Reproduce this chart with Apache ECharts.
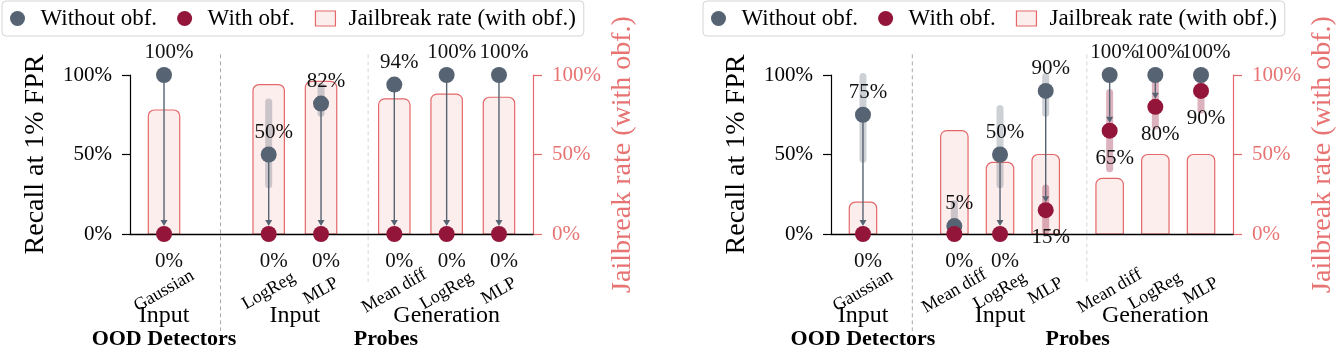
<!DOCTYPE html>
<html>
<head>
<meta charset="utf-8">
<script src="https://cdn.jsdelivr.net/npm/echarts@6/dist/echarts.min.js"></script>
<style>
  html, body { margin: 0; padding: 0; background: #fff; }
  #chart { width: 1338px; height: 348px; }
</style>
</head>
<body>
<div id="chart"></div>
<script>
// ---- data: left panel ----
var leftCats = ['Gaussian', 'LogReg', 'MLP', 'Mean diff', 'LogReg', 'MLP'];
var leftWithout = [100, 50, 82, 94, 100, 100];
var leftWith = [0, 0, 0, 0, 0, 0];
var leftJailbreak = [78, 94, 96, 85, 88, 86];
var leftWithoutLo = [100, 31, 76, 94, 100, 100];
var leftWithoutHi = [100, 83, 93, 94, 100, 100];
var leftWithLo = [0, 0, 0, 0, 0, 0];
var leftWithHi = [0, 0, 0, 0, 0, 0];
var leftGroupOf = [0, 1, 1, 2, 2, 2];
var leftGroups = ['Input', 'Input', 'Generation'];
var leftSectionOf = [0, 1, 1];

// ---- data: right panel ----
var rightCats = ['Gaussian', 'Mean diff', 'LogReg', 'MLP', 'Mean diff', 'LogReg', 'MLP'];
var rightWithout = [75, 5, 50, 90, 100, 100, 100];
var rightWith = [0, 0, 0, 15, 65, 80, 90];
var rightJailbreak = [20, 65, 45, 50, 35, 50, 50];
var rightWithoutLo = [47, 0, 31, 76, 100, 100, 100];
var rightWithoutHi = [99, 19, 79, 99, 100, 100, 100];
var rightWithLo = [0, 0, 0, 2, 41, 68, 78];
var rightWithHi = [0, 0, 0, 29, 89, 96, 100];
var rightGroupOf = [0, 1, 1, 1, 2, 2, 2];
var rightGroups = ['Input', 'Input', 'Generation'];
var rightSectionOf = [0, 1, 1];

var sections = ['OOD Detectors', 'Probes'];
var yTicks = [0, 50, 100];

// ---- layout ----
var leftSlots = [0, 2, 3, 4.4, 5.4, 6.4];
var rightSlots = [0, 2, 3, 4, 5.4, 6.4, 7.4];

var FONT = "'Liberation Serif', 'Times New Roman', serif";
var SLATE = '#566372', CRIMSON = '#93163a', RED = '#e4686a', RED_TXT = '#e77373';

function avg(a) { var s = 0; a.forEach(function (v) { s += v; }); return s / a.length; }

function renderBar(params, api) {
  var top = api.coord([api.value(0), api.value(1)]);
  var base = api.coord([api.value(0), 0]);
  var w = api.size([0.6, 0])[0];
  return {
    type: 'rect',
    shape: { x: top[0] - w / 2, y: top[1], width: w, height: base[1] - top[1], r: [6, 6, 0, 0] },
    style: { fill: '#fdeeee', stroke: RED, lineWidth: 1.2 }
  };
}

// thick translucent range bar behind a dot
function renderErr(params, api) {
  var hi = api.coord([api.value(0), api.value(2)]);
  var lo = api.coord([api.value(0), api.value(1)]);
  var color = api.value(3) === 0 ? 'rgba(88,100,116,0.3)' : 'rgba(147,22,58,0.33)';
  return {
    type: 'rect',
    shape: { x: hi[0] - 3.5, y: hi[1] - 3.5, width: 7, height: lo[1] - hi[1] + 7, r: 3.5 },
    style: { fill: color }
  };
}

function renderArrow(params, api) {
  var a = api.coord([api.value(0), api.value(1)]);
  var b = api.coord([api.value(0), api.value(2)]);
  var dir = b[1] > a[1] ? 1 : -1;
  var tip = b[1] - dir * 8;
  if ((tip - a[1]) * dir < 12) return { type: 'group', children: [] };
  var baseY = tip - dir * 6;
  return {
    type: 'group',
    children: [
      { type: 'line', shape: { x1: a[0], y1: a[1], x2: a[0], y2: baseY }, style: { stroke: SLATE, lineWidth: 1.4 } },
      { type: 'polygon', shape: { points: [[a[0] - 3.5, baseY], [a[0] + 3.5, baseY], [a[0], tip]] }, style: { fill: SLATE } }
    ]
  };
}

function buildPanel(p, slots, cats, without, withObf, jb, oLo, oHi, wLo, wHi, groupOf, groups, sectionOf, dividers) {
  var yL = 2 * p, yR = 2 * p + 1;

  // text items: category names, group names, section names
  var texts = [];
  cats.forEach(function (c, i) {
    texts.push({ x: slots[i], dy: 57, text: c, rot: Math.PI / 6, size: 18, weight: 'normal' });
  });
  var groupSlots = groups.map(function () { return []; });
  slots.forEach(function (x, i) { groupSlots[groupOf[i]].push(x); });
  groups.forEach(function (g, gi) {
    texts.push({ x: avg(groupSlots[gi]), dy: 82, text: g, rot: 0, size: 24, weight: 'normal' });
  });
  var sectionSlots = sections.map(function () { return []; });
  slots.forEach(function (x, i) { sectionSlots[sectionOf[groupOf[i]]].push(x); });
  sections.forEach(function (s, si) {
    texts.push({ x: avg(sectionSlots[si]), dy: 105, text: s, rot: 0, size: 22, weight: 'bold' });
  });

  var errData = [];
  slots.forEach(function (x, i) {
    if (oHi[i] - oLo[i] > 0.5) errData.push([x, oLo[i], oHi[i], 0]);
    if (wHi[i] - wLo[i] > 0.5) errData.push([x, wLo[i], wHi[i], 1]);
  });

  return [
    {
      type: 'custom', name: 'Jailbreak rate (with obf.)', xAxisIndex: p, yAxisIndex: yR, z: 1,
      itemStyle: { color: '#fdeeee', borderColor: RED },
      renderItem: renderBar,
      data: slots.map(function (x, i) { return [x, jb[i]]; })
    },
    {
      type: 'custom', xAxisIndex: p, yAxisIndex: yL, z: 2, silent: true,
      renderItem: function (params, api) {
        var d = dividers[params.dataIndex];
        var t = api.coord([d.x, 113]);
        var b = api.coord([d.x, d.yEnd]);
        return { type: 'line', shape: { x1: t[0], y1: t[1], x2: b[0], y2: b[1] },
          style: { stroke: d.color, lineWidth: 1, lineDash: [4, 3] } };
      },
      data: dividers.map(function (d) { return [d.x, 0]; })
    },
    {
      type: 'custom', xAxisIndex: p, yAxisIndex: yL, z: 3, silent: true,
      dimensions: ['x', 'lo', 'hi', 'kind'],
      renderItem: renderErr,
      data: errData
    },
    {
      type: 'custom', xAxisIndex: p, yAxisIndex: yL, z: 4, silent: true,
      renderItem: renderArrow,
      data: slots.map(function (x, i) { return [x, without[i], withObf[i]]; })
    },
    {
      type: 'scatter', name: 'Without obf.', xAxisIndex: p, yAxisIndex: yL, z: 20, clip: false,
      symbolSize: 16, itemStyle: { color: SLATE, opacity: 1 },
      label: { show: true, position: 'top', distance: 4, offset: [5, 0], fontFamily: FONT, fontSize: 21, color: '#111',
        formatter: function (q) { return q.value[1] + '%'; } },
      data: slots.map(function (x, i) { return [x, without[i]]; })
    },
    {
      type: 'scatter', name: 'With obf.', xAxisIndex: p, yAxisIndex: yL, z: 21, clip: false,
      symbolSize: 16, itemStyle: { color: CRIMSON, opacity: 1 },
      label: { show: true, position: 'bottom', distance: 9, offset: [5, 0], fontFamily: FONT, fontSize: 21, color: '#111',
        formatter: function (q) { return q.value[1] + '%'; } },
      data: slots.map(function (x, i) { return [x, withObf[i]]; })
    },
    {
      type: 'custom', xAxisIndex: p, yAxisIndex: yL, z: 22, silent: true,
      renderItem: function (params, api) {
        var t = texts[params.dataIndex];
        var c = api.coord([t.x, 0]);
        return {
          type: 'text', x: c[0], y: c[1] + t.dy, rotation: t.rot,
          style: { text: t.text, x: 0, y: 0, align: 'center', verticalAlign: 'middle',
            fontFamily: FONT, fontSize: t.size, fontWeight: t.weight, fill: '#000' }
        };
      },
      data: texts.map(function (t) { return [t.x, 0]; })
    }
  ];
}

function yAxes(p) {
  var common = {
    gridIndex: p, type: 'value', min: yTicks[0], max: yTicks[yTicks.length - 1],
    interval: yTicks[1] - yTicks[0], splitLine: { show: false },
    nameLocation: 'middle', nameRotate: 90
  };
  return [
    Object.assign({}, common, {
      position: 'left', name: 'Recall at 1% FPR', nameGap: 80,
      nameTextStyle: { fontFamily: FONT, fontSize: 28, color: '#000' },
      axisLine: { show: true, onZero: false, lineStyle: { color: '#000', width: 1.2 } },
      axisTick: { show: true, length: 8, lineStyle: { color: '#000', width: 1.2 } },
      axisLabel: { formatter: '{value}%', margin: 18, fontFamily: FONT, fontSize: 21, color: '#000' }
    }),
    Object.assign({}, common, {
      position: 'right', name: 'Jailbreak rate (with obf.)', nameGap: 76,
      nameTextStyle: { fontFamily: FONT, fontSize: 28, color: RED_TXT },
      axisLine: { show: true, onZero: false, lineStyle: { color: RED, width: 1.2 } },
      axisTick: { show: true, length: 9, lineStyle: { color: RED, width: 1.2 } },
      axisLabel: { formatter: '{value}%', margin: 19, fontFamily: FONT, fontSize: 21, color: RED_TXT }
    })
  ];
}

function xAxis(p, min, max) {
  return {
    gridIndex: p, type: 'value', min: min, max: max, z: 10,
    axisLine: { show: true, onZero: false, lineStyle: { color: '#000', width: 1.4 } },
    axisTick: { show: false }, axisLabel: { show: false }, splitLine: { show: false }
  };
}

function legend(left) {
  return {
    left: left, top: 1, orient: 'horizontal',
    itemWidth: 20, itemHeight: 15, itemGap: 20,
    padding: [6, 8, 6, 8],
    backgroundColor: '#fff', borderColor: '#d4d4d4', borderWidth: 1, borderRadius: 4,
    textStyle: { fontFamily: FONT, fontSize: 23, color: '#000', padding: [0, 0, 0, 8] },
    data: [
      { name: 'Without obf.', icon: 'circle' },
      { name: 'With obf.', icon: 'circle' },
      { name: 'Jailbreak rate (with obf.)', icon: 'rect',
        itemStyle: { color: '#fdeeee', borderColor: RED, borderWidth: 1.2 } }
    ]
  };
}

var chart = echarts.init(document.getElementById('chart'));
var series = [].concat(
  buildPanel(0, leftSlots, leftCats, leftWithout, leftWith, leftJailbreak,
    leftWithoutLo, leftWithoutHi, leftWithLo, leftWithHi, leftGroupOf, leftGroups, leftSectionOf,
    [{ x: 1.08, yEnd: -61, color: '#a9a9a9' }, { x: 3.9, yEnd: -30, color: '#d6d6d6' }]),
  buildPanel(1, rightSlots, rightCats, rightWithout, rightWith, rightJailbreak,
    rightWithoutLo, rightWithoutHi, rightWithLo, rightWithHi, rightGroupOf, rightGroups, rightSectionOf,
    [{ x: 1.08, yEnd: -61, color: '#a9a9a9' }, { x: 4.9, yEnd: -30, color: '#d6d6d6' }])
);

chart.setOption({
  animation: false,
  backgroundColor: '#fff',
  legend: [legend(2), legend(703)],
  grid: [
    { left: 130, right: 805, top: 75, bottom: 114 },
    { left: 831, right: 101, top: 75, bottom: 114 }
  ],
  xAxis: [xAxis(0, -0.65, 7.05), xAxis(1, -0.7, 8.1)],
  yAxis: yAxes(0).concat(yAxes(1)),
  series: series
});
</script>
</body>
</html>
